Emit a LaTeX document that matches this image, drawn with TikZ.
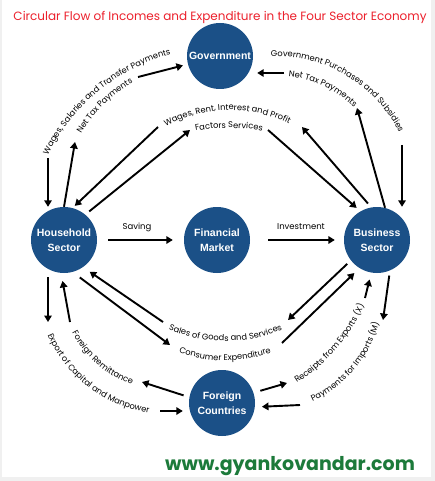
\documentclass[tikz,border=0pt]{standalone}
\usepackage{fontspec}
\setmainfont{Poppins}
\newfontfamily\nodefont{Liberation Sans}
\usetikzlibrary{arrows.meta,decorations.text,calc}

\definecolor{sectorblue}{RGB}{27,80,135}
\definecolor{titlered}{RGB}{236,32,44}
\definecolor{sitegreen}{RGB}{28,122,58}
\newcommand\lblfont{\fontsize{8.3}{10}\selectfont}

\begin{document}
\begin{tikzpicture}[x=1pt, y=-1pt,
  sector/.style = {circle, fill=sectorblue, minimum size=66pt, inner sep=0pt,
                   text=white, align=center, font={\nodefont\bfseries\fontsize{10.5}{14.5}\selectfont}},
  flow/.style = {line width=1.9pt, -{Triangle[length=6.5pt, width=7.5pt]}},
  curved/.style = {decorate, decoration={text along path, text align=center, text={|\lblfont|#1}}},
  ]
  \useasboundingbox (0,0) rectangle (435,481);
  \fill[gray!12] (0,0) rectangle (435,481);
  \fill[white] (2,0) rectangle (431,477);

  \node[font=\fontsize{12}{14}\selectfont, text=titlered, anchor=base] (title) at (220,21)
    {Circular Flow of Incomes and Expenditure in the Four Sector Economy};

  % sectors
  \node[sector] (gov) at (220,56) {Government};
  \node[sector] (hh) at (64,240) {Household\\Sector};
  \node[sector] (fm) at (217,240) {Financial\\Market};
  \node[sector] (bs) at (377,240) {Business\\Sector};
  \node[sector] (fc) at (222,403) {Foreign\\Countries};

  % free ends of the arrows, next to the labels
  \coordinate (wsl) at (48,158);
  \coordinate (ntlA) at (75,142);
  \coordinate (ntlB) at (138,77);
  \coordinate (wrl) at (158,127);
  \coordinate (fsl) at (190,130);
  \coordinate (fsr) at (268,130);
  \coordinate (wrr) at (302,127);
  \coordinate (ntrA) at (357,108);
  \coordinate (ntrB) at (284,73);
  \coordinate (gpr) at (402,145);
  \coordinate (ecA) at (48,322);
  \coordinate (ecB) at (160,411);
  \coordinate (frA) at (70,322);
  \coordinate (frB) at (142,382);
  \coordinate (sgA) at (163,322);
  \coordinate (sgB) at (288,320);
  \coordinate (ceA) at (170,345);
  \coordinate (ceB) at (282,343);
  \coordinate (rxA) at (287,383);
  \coordinate (rxB) at (365,298);
  \coordinate (pmA) at (383,320);
  \coordinate (pmB) at (300,405);

  % upper half
  \draw[flow] (wsl) -- (wsl |- hh.north);
  \draw[flow] (hh.north) -- (ntlA);
  \draw[flow, shorten >=5pt] (ntlB) -- (gov);
  \draw[flow, shorten >=3pt] (wrl) -- (hh.75);
  \draw[flow, shorten <=5pt] (hh.50) -- (fsl);
  \draw[flow, shorten >=5pt] (fsr) -- (bs.120);
  \draw[flow, shorten <=5pt] (bs.100) -- (wrr);
  \draw[flow] (bs.76) -- (ntrA);
  \draw[flow, shorten >=4pt] (ntrB) -- (ntrB -| gov.east);
  \draw[flow] (gpr) -- (gpr |- bs.north);

  % middle
  \draw[flow, shorten <=11pt, shorten >=11pt] (hh) -- (fm);
  \draw[flow, shorten <=18pt, shorten >=9pt] (fm) -- (bs);
  \node[font=\fontsize{8.5}{10}\selectfont, anchor=base] (sav) at (137,229) {Saving};
  \node[font=\fontsize{8.5}{10}\selectfont, anchor=base] (inv) at (301,229) {Investment};

  % lower half
  \draw[flow, shorten <=4pt] (ecA |- hh.south) -- (ecA);
  \draw[flow, shorten >=6pt] (ecB) -- (ecB -| fc.west);
  \draw[flow, shorten >=8pt] (frA) -- (hh.265);
  \draw[flow, shorten <=6pt] (fc.170) -- (frB);
  \draw[flow, shorten >=8pt] (sgA) -- (hh.-55);
  \draw[flow, shorten <=5pt] (bs.218) -- (sgB);
  \draw[flow, shorten <=9pt] (hh.-75) -- (ceA);
  \draw[flow, shorten >=7pt] (ceB) -- (bs.238);
  \draw[flow, shorten <=7pt] (fc.18) -- (rxA);
  \draw[flow, shorten >=7pt] (rxB) -- (bs.260);
  \draw[flow, shorten <=5pt] (bs.-67) -- (pmA);
  \draw[flow, shorten >=7pt] (pmB) -- (fc.-7);

  % curved labels
  \path[curved={Wages, Salaries and Transfer Payments}]
    (220,240) ++(190.7:192) arc[start angle=190.7, end angle=270.7, radius=192];
  \path[curved={Net Tax Payments}]
    (205.6,206.6) ++(195:144) arc[start angle=195, end angle=255, radius=144];
  \path[curved={Wages, Rent, Interest and Profit}]
    (229.5,243) ++(229:133) arc[start angle=229, end angle=309, radius=133];
  \path[curved={Factors Services}]
    (229,318) ++(255:190) arc[start angle=255, end angle=285, radius=190];
  \path[curved={Government Purchases and Subsidies}]
    (275,195) ++(250.8:139) arc[start angle=250.8, end angle=350.8, radius=139];
  \path[curved={Net Tax Payments}]
    (279,181) ++(260.4:105) arc[start angle=260.4, end angle=330.4, radius=105];
  \path[curved={Sales of Goods and Services}]
    (225.5,193) ++(125:148) arc[start angle=125, end angle=55, radius=148];
  \path[curved={Consumer Expenditure}]
    (225,224.5) ++(125:136) arc[start angle=125, end angle=55, radius=136];
  \path[curved={Export of Capital and Manpower}]
    (168,283) ++(172.5:131) arc[start angle=172.5, end angle=82.5, radius=131];
  \path[curved={Foreign Remittance}]
    (168,283) ++(166:108) arc[start angle=166, end angle=96, radius=108];
  \path[curved={Receipts from Exports (X)}]
    (198,229) ++(66:183) arc[start angle=66, end angle=16, radius=183];
  \path[curved={Payments for Imports (M)}]
    (263,292) ++(80.3:120) arc[start angle=80.3, end angle=0.3, radius=120];

  \node[font=\bfseries\fontsize{19}{22}\selectfont, text=sitegreen, anchor=base] (site) at (290,470)
    {www.gyankovandar.com};
\end{tikzpicture}
\end{document}
